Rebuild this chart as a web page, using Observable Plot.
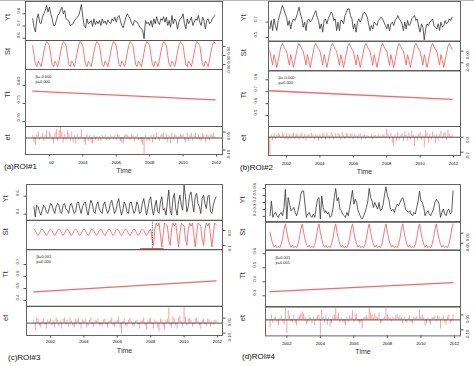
<!DOCTYPE html>
<html><head><meta charset="utf-8">
<script src="https://cdn.jsdelivr.net/npm/d3@7"></script>
<script src="https://cdn.jsdelivr.net/npm/@observablehq/plot@0.6"></script>
<style>
body{margin:0;background:#fff;}
#root{position:relative;width:474px;height:366px;overflow:hidden;background:#fff;font-family:"Liberation Sans",Arial,sans-serif;}
#root svg{position:absolute;overflow:visible;}
.plab{position:absolute;font-size:8px;color:#111;background:#fff;white-space:nowrap;line-height:12px;}
.hline{position:absolute;left:0;width:474px;height:1px;background:#bbb;}
</style></head><body><div id="root"></div>
<script>
// ---- time axis (monthly series starting 2001) ----
const startYear = 2001, freq = 12;
const trendTime = [2001, 2011.917];
const yearTicks = [2002, 2004, 2006, 2008, 2010, 2012];
const rowNames = ["Yt", "St", "Tt", "et"];

// ---- ROI#1 ----
const ytA = [
0.759,0.690,0.650,0.759,0.800,0.731,0.718,0.772,0.800,0.827,0.868,0.813,
0.854,0.800,0.759,0.704,0.704,0.745,0.786,0.800,0.832,0.854,0.800,0.827,
0.759,0.750,0.740,0.704,0.712,0.718,0.745,0.759,0.772,0.786,0.827,0.876,
0.772,0.704,0.685,0.759,0.718,0.731,0.745,0.696,0.759,0.712,0.740,0.718,
0.745,0.704,0.759,0.723,0.740,0.712,0.750,0.731,0.718,0.759,0.740,0.772,
0.731,0.772,0.786,0.745,0.704,0.685,0.731,0.772,0.800,0.777,0.759,0.723,
0.704,0.745,0.740,0.731,0.712,0.690,0.677,0.663,0.595,0.745,0.718,0.731,
0.704,0.745,0.690,0.759,0.718,0.777,0.731,0.712,0.759,0.745,0.777,0.731,
0.772,0.704,0.745,0.690,0.786,0.718,0.759,0.740,0.677,0.731,0.759,0.772,
0.800,0.718,0.677,0.759,0.718,0.745,0.772,0.704,0.731,0.759,0.745,0.786,
0.731,0.704,0.772,0.745,0.677,0.745,0.759,0.718,0.731,0.759,0.777,0.786];
const stA = [
0.044,0.0,-0.04,-0.049,-0.025,-0.035,-0.049,-0.02,0.015,0.045,0.062,0.055,
0.044,0.0,-0.04,-0.049,-0.025,-0.035,-0.049,-0.02,0.015,0.045,0.062,0.055,
0.044,0.0,-0.04,-0.049,-0.025,-0.035,-0.049,-0.02,0.015,0.045,0.062,0.055,
0.044,0.0,-0.04,-0.049,-0.025,-0.035,-0.049,-0.02,0.015,0.045,0.062,0.055,
0.044,0.0,-0.04,-0.049,-0.025,-0.035,-0.049,-0.02,0.015,0.045,0.062,0.055,
0.044,0.0,-0.04,-0.049,-0.025,-0.035,-0.049,-0.02,0.015,0.045,0.062,0.055,
0.044,0.0,-0.04,-0.049,-0.025,-0.035,-0.049,-0.02,0.015,0.045,0.062,0.055,
0.044,0.0,-0.04,-0.049,-0.025,-0.035,-0.049,-0.02,0.015,0.045,0.062,0.055,
0.044,0.0,-0.04,-0.049,-0.025,-0.035,-0.049,-0.02,0.015,0.045,0.062,0.055,
0.044,0.0,-0.04,-0.049,-0.025,-0.035,-0.049,-0.02,0.015,0.045,0.062,0.055,
0.044,0.0,-0.04,-0.049,-0.025,-0.035,-0.049,-0.02,0.015,0.045,0.062,0.055];
const ttA = [0.784, 0.760];
const etA = [
0.02,-0.04,-0.06,0.03,0.05,-0.02,0.01,0.04,-0.03,0.02,0.06,-0.01,
0.05,0.03,-0.02,-0.05,0.04,0.07,-0.03,0.06,0.10,0.05,-0.04,0.03,
-0.02,0.06,0.04,-0.03,0.05,-0.04,0.02,-0.05,0.03,-0.02,0.01,0.07,
-0.01,-0.04,-0.06,0.03,-0.03,0.02,-0.04,-0.05,0.02,-0.02,0.01,-0.03,
0.01,-0.03,0.02,-0.01,0.02,-0.02,0.01,-0.02,0.02,0.01,-0.01,0.02,
-0.02,0.03,0.02,-0.03,-0.04,-0.05,0.02,0.03,0.02,0.01,-0.02,0.03,
0.02,-0.03,0.01,0.03,-0.02,-0.01,-0.04,-0.06,-0.135,0.02,-0.03,-0.02,
-0.03,0.02,-0.04,0.03,-0.02,0.04,0.01,-0.03,0.02,0.03,0.04,-0.02,
0.03,-0.04,0.02,-0.05,0.04,-0.02,0.03,0.02,-0.05,0.01,0.03,0.02,
0.03,-0.02,-0.04,0.04,-0.03,0.02,0.04,-0.03,0.02,0.04,-0.01,0.03,
-0.02,-0.03,0.04,0.02,-0.04,0.03,0.02,-0.02,0.03,0.02,0.04,0.01];
const ytTicksA = [0.6, 0.7, 0.8], stTicksA = [-0.04, 0, 0.04], ttTicksA = [0.7, 0.75, 0.8], etTicksA = [-0.1, 0.05];
const statA = "β=-0.000\np=0.000";

// ---- ROI#2 ----
const ytB = [
0.612,0.719,0.590,0.741,0.655,0.590,0.719,0.784,0.848,0.913,0.870,0.805,
0.762,0.655,0.719,0.612,0.698,0.741,0.719,0.762,0.827,0.891,0.805,0.741,
0.633,0.698,0.590,0.719,0.741,0.698,0.719,0.762,0.805,0.848,0.762,0.719,
0.612,0.676,0.569,0.719,0.741,0.676,0.741,0.784,0.827,0.805,0.719,0.741,
0.590,0.698,0.590,0.719,0.719,0.676,0.784,0.827,0.870,0.870,0.784,0.741,
0.612,0.676,0.569,0.698,0.741,0.698,0.741,0.805,0.827,0.805,0.762,0.676,
0.590,0.655,0.612,0.698,0.676,0.655,0.719,0.741,0.762,0.741,0.698,0.655,
0.612,0.676,0.590,0.676,0.698,0.655,0.719,0.741,0.784,0.741,0.719,0.676,
0.590,0.698,0.612,0.719,0.655,0.676,0.741,0.762,0.784,0.719,0.741,0.633,
0.569,0.676,0.633,0.470,0.612,0.676,0.655,0.698,0.719,0.741,0.655,0.633,
0.612,0.676,0.590,0.698,0.633,0.655,0.719,0.676,0.698,0.741,0.719,0.762];
const stB = [
0.0,-0.03,-0.06,-0.015,-0.04,-0.07,-0.04,-0.01,0.02,0.033,0.02,0.008,
0.0,-0.03,-0.06,-0.015,-0.04,-0.07,-0.04,-0.01,0.02,0.033,0.02,0.008,
0.0,-0.03,-0.06,-0.015,-0.04,-0.07,-0.04,-0.01,0.02,0.033,0.02,0.008,
0.0,-0.03,-0.06,-0.015,-0.04,-0.07,-0.04,-0.01,0.02,0.033,0.02,0.008,
0.0,-0.03,-0.06,-0.015,-0.04,-0.07,-0.04,-0.01,0.02,0.033,0.02,0.008,
0.0,-0.03,-0.06,-0.015,-0.04,-0.07,-0.04,-0.01,0.02,0.033,0.02,0.008,
0.0,-0.03,-0.06,-0.015,-0.04,-0.07,-0.04,-0.01,0.02,0.033,0.02,0.008,
0.0,-0.03,-0.06,-0.015,-0.04,-0.07,-0.04,-0.01,0.02,0.033,0.02,0.008,
0.0,-0.03,-0.06,-0.015,-0.04,-0.07,-0.04,-0.01,0.02,0.033,0.02,0.008,
0.0,-0.03,-0.06,-0.015,-0.04,-0.07,-0.04,-0.01,0.02,0.033,0.02,0.008,
0.0,-0.03,-0.06,-0.015,-0.04,-0.07,-0.04,-0.01,0.02,0.033,0.02,0.008];
const ttB = [0.708, 0.636];
const etB = [
-0.23,0.03,-0.05,0.04,-0.03,0.02,0.05,0.03,-0.02,0.06,0.04,-0.03,
0.05,-0.04,0.04,-0.02,0.03,0.05,-0.03,0.04,0.02,-0.04,0.03,0.05,
-0.03,0.04,-0.05,0.02,0.04,-0.02,0.05,0.03,-0.04,0.04,0.02,-0.05,
0.04,-0.03,0.05,0.03,-0.04,0.05,0.02,-0.03,0.06,0.03,-0.04,0.05,
-0.02,0.05,0.03,-0.04,0.06,0.02,-0.03,0.05,0.04,-0.02,0.03,0.04,
-0.03,0.04,0.02,-0.02,0.03,0.05,-0.04,0.02,0.03,-0.03,0.02,0.01,
-0.02,0.03,-0.03,0.02,0.02,-0.02,0.03,0.01,-0.02,0.02,0.03,-0.02,
0.11,0.04,-0.03,0.05,-0.08,-0.12,0.03,-0.05,0.06,-0.04,0.02,0.05,
-0.06,0.07,0.03,-0.05,0.06,-0.04,0.08,0.03,-0.12,0.02,-0.05,0.04,
0.06,-0.04,0.02,-0.14,0.09,0.05,-0.08,0.04,-0.04,0.07,0.03,-0.09,
0.04,-0.05,0.03,0.08,-0.03,0.05,0.06,-0.04,0.09,0.04,-0.02,0.03];
const ytTicksB = [0.5, 0.7], stTicksB = [-0.05, 0], ttTicksB = [0.5, 0.6, 0.7, 0.8], etTicksB = [-0.2, 0];
const statB = "β=-0.000\np=0.000";

// ---- ROI#3 ----
const ytC = [
0.482,0.371,0.500,0.482,0.426,0.389,0.444,0.500,0.482,0.426,0.408,0.463,
0.519,0.500,0.444,0.408,0.482,0.519,0.500,0.426,0.408,0.500,0.519,0.463,
0.444,0.408,0.500,0.519,0.463,0.408,0.426,0.519,0.537,0.463,0.408,0.482,
0.519,0.537,0.444,0.389,0.482,0.555,0.519,0.426,0.408,0.500,0.537,0.463,
0.426,0.408,0.500,0.537,0.463,0.408,0.444,0.519,0.555,0.482,0.408,0.444,
0.519,0.574,0.463,0.389,0.444,0.537,0.500,0.426,0.408,0.519,0.537,0.463,
0.408,0.444,0.537,0.500,0.408,0.426,0.519,0.574,0.482,0.389,0.463,0.555,
0.593,0.463,0.389,0.482,0.555,0.426,0.408,0.537,0.593,0.444,0.463,0.389,
0.537,0.667,0.444,0.389,0.574,0.630,0.463,0.389,0.537,0.611,0.500,0.444,
0.722,0.593,0.426,0.482,0.611,0.648,0.519,0.426,0.593,0.630,0.519,0.482,
0.408,0.574,0.611,0.519,0.463,0.593,0.611,0.426,0.408,0.500,0.555,0.593];
const stC = [
0.01,0.0,-0.02,-0.033,-0.02,0.0,0.01,0.0,-0.02,-0.033,-0.02,0.0,
0.01,0.0,-0.02,-0.033,-0.02,0.0,0.01,0.0,-0.02,-0.033,-0.02,0.0,
0.01,0.0,-0.02,-0.033,-0.02,0.0,0.01,0.0,-0.02,-0.033,-0.02,0.0,
0.01,0.0,-0.02,-0.033,-0.02,0.0,0.01,0.0,-0.02,-0.033,-0.02,0.0,
0.01,0.0,-0.02,-0.033,-0.02,0.0,0.01,0.0,-0.02,-0.033,-0.02,0.0,
0.01,0.0,-0.02,-0.033,-0.02,0.0,0.01,0.0,-0.02,-0.033,-0.02,0.0,
0.01,0.0,-0.02,-0.033,-0.02,0.0,0.01,0.0,-0.02,-0.033,-0.02,0.0,
0.01,-0.06,-0.10,0.01,0.05,0.03,0.05,-0.03,-0.11,-0.02,0.05,0.04,
0.03,-0.06,-0.10,0.01,0.05,0.03,0.05,-0.03,-0.11,-0.02,0.05,0.04,
0.03,-0.06,-0.10,0.01,0.05,0.03,0.05,-0.03,-0.11,-0.02,0.05,0.04,
0.03,-0.06,-0.10,0.01,0.05,0.03,0.05,-0.03,-0.11,-0.02,0.05,0.04];
const ttC = [0.472, 0.564];
const etC = [
0.03,-0.08,0.05,0.04,-0.03,-0.05,0.02,0.04,-0.02,-0.06,0.03,0.02,
0.04,-0.03,0.02,-0.05,0.05,0.03,-0.04,0.02,-0.06,0.04,0.05,-0.02,
0.03,-0.04,0.05,0.02,-0.03,-0.05,0.04,0.03,0.05,-0.02,-0.06,0.03,
0.02,0.04,-0.05,-0.03,0.03,0.05,-0.02,-0.04,0.03,0.02,0.04,-0.03,
-0.02,-0.04,0.03,0.04,-0.02,-0.05,0.02,0.03,0.05,-0.03,-0.04,0.02,
0.03,0.06,-0.05,-0.11,0.02,0.04,-0.03,-0.04,0.03,0.05,0.02,-0.03,
-0.04,0.02,0.03,-0.02,-0.06,0.02,0.03,0.05,-0.03,-0.07,0.02,0.04,
0.05,-0.02,-0.06,0.03,0.02,-0.05,-0.09,0.04,0.03,-0.04,-0.07,0.03,
0.04,0.15,-0.03,-0.05,0.06,0.04,-0.03,-0.06,0.05,0.07,0.02,-0.04,
0.17,0.06,-0.03,0.04,0.05,0.03,-0.04,-0.02,0.04,0.05,0.02,-0.03,
-0.06,0.03,0.04,-0.02,-0.03,0.04,0.03,-0.04,0.02,-0.02,0.03,0.02];
const breakC = [2008.1], breakCI_C = [2007.4, 2008.8];
const ytTicksC = [0.4, 0.6], stTicksC = [-0.1, 0], ttTicksC = [0.4, 0.5, 0.6, 0.7], etTicksC = [-0.1, 0.05];
const statC = "β=0.001\np=0.000";

// ---- ROI#4 ----
const ytD = [
0.209,0.423,0.185,0.233,0.257,0.209,0.185,0.233,0.257,0.209,0.328,0.590,
0.161,0.471,0.376,0.281,0.304,0.328,0.257,0.209,0.281,0.376,0.519,0.566,
0.566,0.376,0.185,0.233,0.257,0.209,0.185,0.233,0.185,0.328,0.447,0.471,
0.161,0.494,0.328,0.257,0.281,0.233,0.257,0.185,0.209,0.304,0.471,0.604,
0.423,0.471,0.304,0.281,0.233,0.209,0.185,0.257,0.209,0.328,0.447,0.576,
0.376,0.447,0.400,0.281,0.233,0.185,0.161,0.209,0.257,0.328,0.423,0.604,
0.471,0.423,0.328,0.400,0.352,0.304,0.400,0.281,0.304,0.376,0.519,0.623,
0.494,0.447,0.328,0.281,0.304,0.257,0.328,0.376,0.352,0.400,0.447,0.471,
0.400,0.304,0.281,0.257,0.281,0.233,0.209,0.257,0.233,0.328,0.423,0.566,
0.423,0.400,0.328,0.209,0.257,0.281,0.233,0.209,0.257,0.304,0.400,0.447,
0.423,0.376,0.185,0.257,0.304,0.233,0.209,0.281,0.304,0.233,0.257,0.566];
const stD = [
0.06,-0.01,-0.06,-0.09,-0.07,-0.095,-0.08,-0.095,-0.06,0.0,0.09,0.143,
0.06,-0.01,-0.06,-0.09,-0.07,-0.095,-0.08,-0.095,-0.06,0.0,0.09,0.143,
0.06,-0.01,-0.06,-0.09,-0.07,-0.095,-0.08,-0.095,-0.06,0.0,0.09,0.143,
0.06,-0.01,-0.06,-0.09,-0.07,-0.095,-0.08,-0.095,-0.06,0.0,0.09,0.143,
0.06,-0.01,-0.06,-0.09,-0.07,-0.095,-0.08,-0.095,-0.06,0.0,0.09,0.143,
0.06,-0.01,-0.06,-0.09,-0.07,-0.095,-0.08,-0.095,-0.06,0.0,0.09,0.143,
0.06,-0.01,-0.06,-0.09,-0.07,-0.095,-0.08,-0.095,-0.06,0.0,0.09,0.143,
0.06,-0.01,-0.06,-0.09,-0.07,-0.095,-0.08,-0.095,-0.06,0.0,0.09,0.143,
0.06,-0.01,-0.06,-0.09,-0.07,-0.095,-0.08,-0.095,-0.06,0.0,0.09,0.143,
0.06,-0.01,-0.06,-0.09,-0.07,-0.095,-0.08,-0.095,-0.06,0.0,0.09,0.143,
0.06,-0.01,-0.06,-0.09,-0.07,-0.095,-0.08,-0.095,-0.06,0.0,0.09,0.143];
const ttD = [0.329, 0.394];
const etD = [
-0.08,0.05,-0.04,0.02,0.03,-0.03,-0.06,0.01,0.04,-0.02,-0.05,0.12,
-0.14,0.09,0.04,-0.02,-0.03,0.05,-0.04,-0.06,0.02,0.04,0.06,0.08,
0.06,0.03,-0.05,-0.03,0.04,0.02,-0.04,0.03,-0.06,0.02,0.04,0.05,
-0.15,0.10,0.03,-0.03,0.04,-0.05,0.02,-0.07,-0.04,0.03,0.05,0.12,
0.04,0.07,-0.03,0.02,-0.02,-0.04,-0.06,0.03,-0.03,0.04,0.03,0.09,
-0.03,0.05,0.06,-0.02,-0.04,-0.03,-0.09,0.02,0.03,0.04,0.02,0.12,
0.07,0.05,0.02,0.06,0.03,0.02,0.07,-0.04,-0.03,0.01,0.03,0.13,
0.05,0.03,0.02,-0.02,0.03,0.01,0.04,0.05,0.02,0.04,0.02,-0.04,
0.03,-0.02,-0.03,0.02,0.04,-0.03,-0.04,0.03,0.02,0.03,0.01,0.10,
0.03,0.05,0.02,-0.06,-0.04,0.02,-0.03,-0.05,0.03,0.02,0.04,-0.02,
0.04,0.03,-0.09,0.02,0.04,-0.03,-0.05,0.03,0.05,-0.04,-0.02,0.05];
const ytTicksD = [0.2, 0.3, 0.4, 0.5, 0.6], stTicksD = [-0.05, 0.05], ttTicksD = [0.3, 0.4, 0.5, 0.6], etTicksD = [-0.1, 0.05];
const statD = "β=0.001\np=0.001";

// ---- layout (pixel geometry, not data) ----
const panels = [
  {label:"(a)ROI#1", x0:0, fl:25, fr:222, xdom:[2000.57,2012.36],
   rows:[[1,40],[40,69],[69,126],[126,154]],
   ydom:[[0.581,0.901],[-0.062,0.067],[0.686,0.844],[-0.1375,0.096]],
   yt:ytA, st:stA, tt:ttA, et:etA, ticks:[ytTicksA,stTicksA,ttTicksA,etTicksA], stat:statA,
   labDx:-18, tlDx:-7, trDx:6, tickPad:4, timeDy:18,
   lab:{left:0, top:161, width:45, pad:4}},
  {label:"(b)ROI#2", x0:237, fl:268, fr:460, xdom:[2000.92,2012.42],
   rows:[[1,40.5],[40.5,70],[70,126],[126,155]],
   ydom:[[0.455,0.965],[-0.085,0.041],[0.408,0.878],[-0.244,0.143]],
   yt:ytB, st:stB, tt:ttB, et:etB, ticks:[ytTicksB,stTicksB,ttTicksB,etTicksB], stat:statB,
   labDx:-25, tlDx:-13, trDx:7, tickPad:4, timeDy:18,
   lab:{left:239, top:162, width:0, pad:1}},
  {label:"(c)ROI#3", x0:0, fl:26, fr:222, xdom:[2000.56,2012.3],
   rows:[[184,219.7],[219.7,249],[249,305.7],[305.7,334.7]],
   ydom:[[0.333,0.73],[-0.129,0.067],[0.353,0.825],[-0.124,0.166]],
   yt:ytC, st:stC, tt:ttC, et:etC, ticks:[ytTicksC,stTicksC,ttTicksC,etTicksC], stat:statC,
   labDx:-21, tlDx:-9, trDx:7, tickPad:2, timeDy:17,
   brk:breakC, ci:breakCI_C,
   lab:{left:7, top:352, width:0, pad:1}},
  {label:"(d)ROI#4", x0:237, fl:265, fr:460, xdom:[2000.73,2012.36],
   rows:[[183.5,221.3],[221.3,249.7],[249.7,306.3],[306.3,335.7]],
   ydom:[[0.114,0.66],[-0.117,0.167],[0.219,0.624],[-0.16,0.134]],
   yt:ytD, st:stD, tt:ttD, et:etD, ticks:[ytTicksD,stTicksD,ttTicksD,etTicksD], stat:statD,
   labDx:-23, tlDx:-11, trDx:7, tickPad:3.5, timeDy:18,
   lab:{left:241, top:351, width:0, pad:1}}
];

const RED = "#f06a6a", PINK = "#f28c8c", DARK = "#333", FRAME = "#555";
const root = document.getElementById("root");
const series = vals => vals.map((v, i) => ({t: startYear + i / freq, v}));
const fmtTick = (ticks) => {
  const dec = d3.max(ticks, d => { const s = String(d); return s.includes(".") ? s.split(".")[1].length : 0; });
  return d => d.toFixed(dec);
};

function addPanel(p) {
  const W = 237;
  const ml = p.fl - p.x0, mr = p.x0 + W - p.fr;
  for (let k = 0; k < 4; k++) {
    const [top, bottom] = p.rows[k];
    const h = bottom - top;
    const last = k === 3;
    const mb = last ? 26 : 0;
    const side = (k % 2 === 0) ? "left" : "right";
    const ticks = p.ticks[k];
    const f = fmtTick(ticks);
    const marks = [];
    if (k === 0) {
      marks.push(Plot.line(series(p.yt), {x: "t", y: "v", stroke: DARK, strokeWidth: 0.8, clip: true}));
    } else if (k === 1) {
      marks.push(Plot.line(series(p.st), {x: "t", y: "v", stroke: RED, strokeWidth: 0.9, clip: true}));
      if (p.brk) {
        marks.push(Plot.ruleX(p.brk, {stroke: "#222", strokeWidth: 0.8, strokeDasharray: "1.2,1.2"}));
        marks.push(Plot.ruleY([p.ydom[1][0]], {x1: p.ci[0], x2: p.ci[1], stroke: "#e03030", strokeWidth: 1.2, dy: -1}));
      }
    } else if (k === 2) {
      marks.push(Plot.line(trendTime.map((t, i) => ({t, v: p.tt[i]})), {x: "t", y: "v", stroke: RED, strokeWidth: 1.3}));
      marks.push(Plot.text([p.stat], {frameAnchor: "top-left", dx: 10, dy: 5, fontSize: 4, lineAnchor: "top", textAnchor: "start", fill: "#222", lineHeight: 1.25}));
    } else {
      marks.push(Plot.ruleX(series(p.et), {x: "t", y1: 0, y2: "v", stroke: PINK, strokeWidth: 0.8, clip: true}));
      marks.push(Plot.ruleY([0], {stroke: "#222", strokeWidth: 0.8}));
      marks.push(Plot.axisX({ticks: yearTicks, tickFormat: d => String(d), tickSize: 2.5, tickPadding: p.tickPad, fontSize: 4.2, label: null, stroke: FRAME}));
      marks.push(Plot.text(["Time"], {frameAnchor: "bottom", dy: p.timeDy, fontSize: 7, fill: "#333"}));
    }
    marks.push(Plot.frame({stroke: FRAME, strokeWidth: 0.9}));
    marks.push(Plot.axisY({anchor: side, ticks, tickSize: 2.5, tickFormat: () => "", label: null, stroke: FRAME}));
    marks.push(Plot.text(ticks, {y: d => d, text: f, frameAnchor: side, dx: side === "left" ? p.tlDx : p.trDx, rotate: -90, fontSize: 4.2, fill: "#333"}));
    marks.push(Plot.text([rowNames[k]], {frameAnchor: "left", dx: p.labDx, rotate: -90, fontSize: 7.5, fill: "#333"}));
    const svg = Plot.plot({
      width: W, height: h + mb,
      marginLeft: ml, marginRight: mr, marginTop: 0, marginBottom: mb,
      x: {domain: p.xdom, axis: null},
      y: {domain: p.ydom[k], axis: null},
      style: {background: "transparent", overflow: "visible", fontFamily: "Liberation Sans, Arial, sans-serif", maxWidth: "none"},
      marks
    });
    svg.style.left = p.x0 + "px";
    svg.style.top = top + "px";
    root.appendChild(svg);
  }
  const lab = document.createElement("div");
  lab.className = "plab";
  lab.textContent = p.label;
  lab.style.left = p.lab.left + "px";
  lab.style.top = p.lab.top + "px";
  lab.style.paddingLeft = p.lab.pad + "px";
  if (p.lab.width) lab.style.width = p.lab.width + "px";
  root.appendChild(lab);
}

const hl = document.createElement("div");
hl.className = "hline"; hl.style.top = "0px";
root.appendChild(hl);
panels.forEach(addPanel);
</script>
</body></html>
